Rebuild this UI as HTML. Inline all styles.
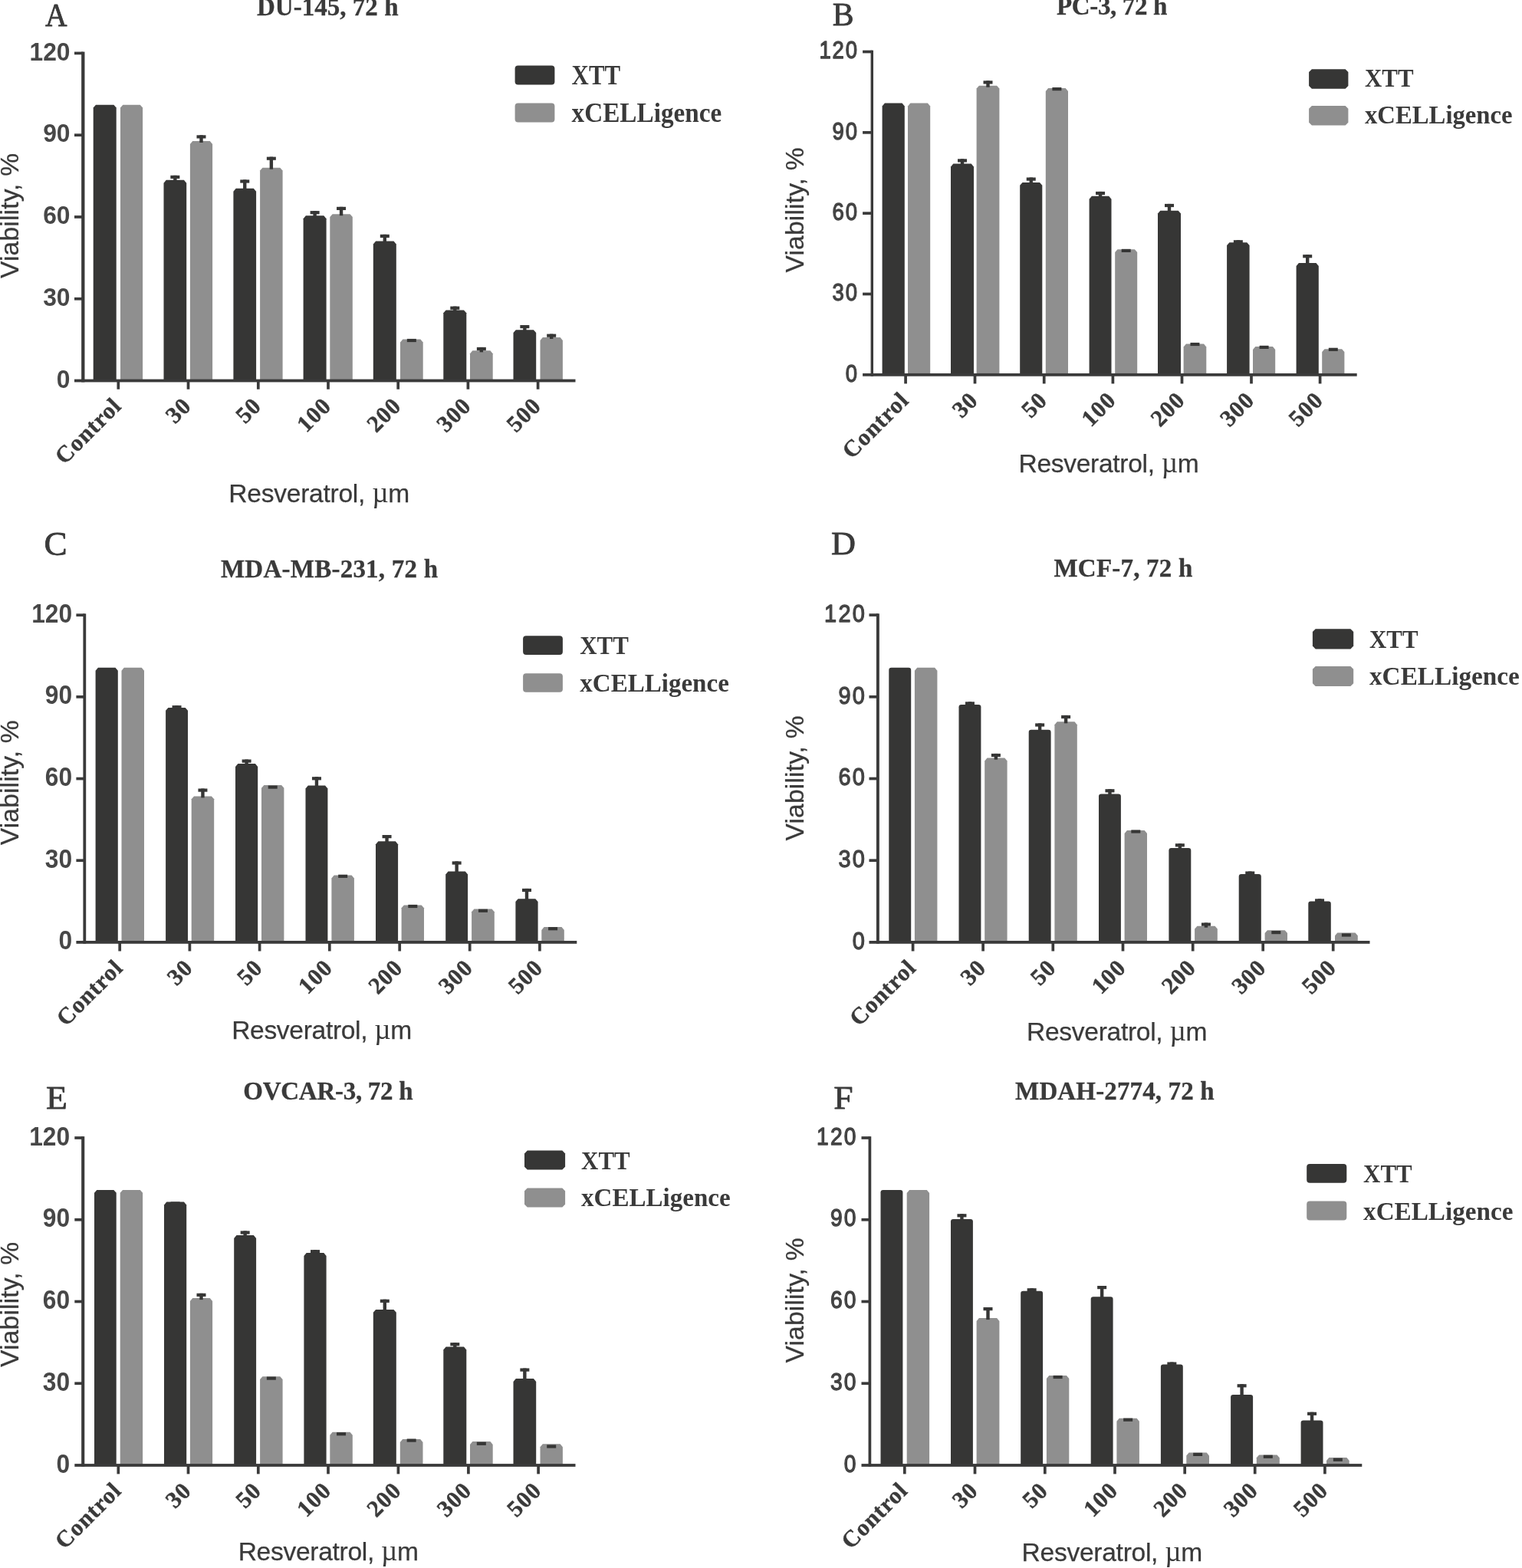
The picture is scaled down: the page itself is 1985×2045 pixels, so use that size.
<!DOCTYPE html>
<html lang="en">
<head>
<meta charset="utf-8">
<title>Resveratrol viability: XTT vs xCELLigence</title>
<style>
html,body{margin:0;padding:0;background:#fff;}
body{width:1985px;height:2045px;overflow:hidden;}
svg{display:block;}
text{fill:#3a3a3a;}
.pl{font-family:"Liberation Serif",serif;font-size:43px;stroke:#3a3a3a;stroke-width:0.8px;stroke-linejoin:round;}
.ti{font-family:"Liberation Serif",serif;font-weight:bold;font-size:33px;stroke:#3a3a3a;stroke-width:0.3px;}
.lg{font-family:"Liberation Serif",serif;font-weight:bold;font-size:35px;}
.xt{font-family:"Liberation Serif",serif;font-weight:bold;font-size:30.5px;letter-spacing:0.9px;stroke:#3a3a3a;stroke-width:0.45px;}
.yb{font-family:"Liberation Sans",sans-serif;font-weight:bold;fill:#474747;}
.yr{font-family:"Liberation Sans",sans-serif;stroke:#444;stroke-width:1.3px;stroke-linejoin:round;fill:#444;}
.al{font-family:"Liberation Sans",sans-serif;font-size:33.6px;stroke:#3a3a3a;stroke-width:0.25px;}
.mu{font-family:"Liberation Serif",serif;font-size:37px;stroke-width:0;}
</style>
</head>
<body>
<svg width="1985" height="2045" viewBox="0 0 1985 2045" role="img" aria-label="Cell viability after 72 h resveratrol treatment in six cancer cell lines, XTT versus xCELLigence">
<rect x="0" y="0" width="1985" height="2045" fill="#ffffff"/>
<g id="panel-A">
<path d="M121.7 496.5V140.6L125 136.7H148.4L151.7 140.6V496.5Z" fill="#363635"/>
<path d="M157 496.5V140.6L160.3 136.7H182.8L186.1 140.6V496.5Z" fill="#8f8f8f"/>
<path d="M213.5 496.5V238.7L216.8 234.8H239.9L243.2 238.7V496.5Z" fill="#363635"/>
<path d="M247.9 496.5V187.9L251.2 184H273.8L277.1 187.9V496.5Z" fill="#8f8f8f"/>
<rect x="222.35" y="228.8" width="12" height="4.2" fill="#363635"/>
<rect x="226.15" y="228.8" width="4.4" height="8" fill="#363635"/>
<rect x="256.5" y="176.3" width="12" height="4.2" fill="#363635"/>
<rect x="260.3" y="176.3" width="4.4" height="9.7" fill="#363635"/>
<path d="M304.4 496.5V249.7L307.7 245.8H330.8L334.1 249.7V496.5Z" fill="#363635"/>
<path d="M339.1 496.5V222.6L342.4 218.7H365.3L368.6 222.6V496.5Z" fill="#8f8f8f"/>
<rect x="313.25" y="234.4" width="12" height="4.2" fill="#363635"/>
<rect x="317.05" y="234.4" width="4.4" height="13.4" fill="#363635"/>
<rect x="347.85" y="204.6" width="12" height="4.2" fill="#363635"/>
<rect x="351.65" y="204.6" width="4.4" height="16.1" fill="#363635"/>
<path d="M395.6 496.5V285.2L398.9 281.3H422.3L425.6 285.2V496.5Z" fill="#363635"/>
<path d="M430.3 496.5V283.1L433.6 279.2H456.5L459.8 283.1V496.5Z" fill="#8f8f8f"/>
<rect x="404.6" y="275.1" width="12" height="4.2" fill="#363635"/>
<rect x="408.4" y="275.1" width="4.4" height="8.2" fill="#363635"/>
<rect x="439.05" y="269.8" width="12" height="4.2" fill="#363635"/>
<rect x="442.85" y="269.8" width="4.4" height="11.4" fill="#363635"/>
<path d="M486.8 496.5V318.5L490.1 314.6H513.5L516.8 318.5V496.5Z" fill="#363635"/>
<path d="M522 496.5V446.4L525.3 442.5H548.4L551.7 446.4V496.5Z" fill="#8f8f8f"/>
<rect x="495.8" y="305.8" width="12" height="4.2" fill="#363635"/>
<rect x="499.6" y="305.8" width="4.4" height="10.8" fill="#363635"/>
<rect x="530.85" y="441.9" width="12" height="4.2" fill="#363635"/>
<path d="M578.3 496.5V408.3L581.6 404.4H605L608.3 408.3V496.5Z" fill="#363635"/>
<path d="M613 496.5V461.2L616.3 457.3H639.4L642.7 461.2V496.5Z" fill="#8f8f8f"/>
<rect x="587.3" y="399.6" width="12" height="4.2" fill="#363635"/>
<rect x="591.1" y="399.6" width="4.4" height="6.8" fill="#363635"/>
<rect x="621.85" y="452.9" width="12" height="4.2" fill="#363635"/>
<rect x="625.65" y="452.9" width="4.4" height="6.4" fill="#363635"/>
<path d="M669.5 496.5V434.1L672.8 430.2H695.9L699.2 434.1V496.5Z" fill="#363635"/>
<path d="M704.5 496.5V443.9L707.8 440H730.6L733.9 443.9V496.5Z" fill="#8f8f8f"/>
<rect x="678.35" y="424" width="12" height="4.2" fill="#363635"/>
<rect x="682.15" y="424" width="4.4" height="8.2" fill="#363635"/>
<rect x="713.2" y="435.6" width="12" height="4.2" fill="#363635"/>
<rect x="717" y="435.6" width="4.4" height="6.4" fill="#363635"/>
<rect x="106.15" y="67.55" width="4.3" height="430.85" fill="#3a3a3a"/>
<rect x="97" y="494.6" width="653.5" height="3.8" fill="#3a3a3a"/>
<rect x="97" y="67.55" width="11.3" height="3.7" fill="#3a3a3a"/>
<text class="yb" text-anchor="end" style="font-size:33.8px;letter-spacing:0px" transform="translate(91.5 78.7) scale(0.94 1)">120</text>
<rect x="97" y="174.33" width="11.3" height="3.7" fill="#3a3a3a"/>
<text class="yb" text-anchor="end" style="font-size:33.8px;letter-spacing:0px" transform="translate(91.5 185.48) scale(0.94 1)">90</text>
<rect x="97" y="281.1" width="11.3" height="3.7" fill="#3a3a3a"/>
<text class="yb" text-anchor="end" style="font-size:33.8px;letter-spacing:0px" transform="translate(91.5 292.25) scale(0.94 1)">60</text>
<rect x="97" y="387.88" width="11.3" height="3.7" fill="#3a3a3a"/>
<text class="yb" text-anchor="end" style="font-size:33.8px;letter-spacing:0px" transform="translate(91.5 399.03) scale(0.94 1)">30</text>
<text class="yb" text-anchor="end" style="font-size:33.8px;letter-spacing:0px" transform="translate(91.5 505.8) scale(0.94 1)">0</text>
<rect x="152.45" y="496.5" width="3.7" height="11.2" fill="#3a3a3a"/>
<text class="xt" text-anchor="end" transform="translate(160 531) rotate(-45) skewX(0)">Control</text>
<rect x="243.65" y="496.5" width="3.7" height="11.2" fill="#3a3a3a"/>
<text class="xt" text-anchor="end" transform="translate(251.2 531) rotate(-45) skewX(0)">30</text>
<rect x="334.95" y="496.5" width="3.7" height="11.2" fill="#3a3a3a"/>
<text class="xt" text-anchor="end" transform="translate(342.5 531) rotate(-45) skewX(0)">50</text>
<rect x="426.15" y="496.5" width="3.7" height="11.2" fill="#3a3a3a"/>
<text class="xt" text-anchor="end" transform="translate(433.7 531) rotate(-45) skewX(0)">100</text>
<rect x="517.35" y="496.5" width="3.7" height="11.2" fill="#3a3a3a"/>
<text class="xt" text-anchor="end" transform="translate(524.9 531) rotate(-45) skewX(0)">200</text>
<rect x="608.55" y="496.5" width="3.7" height="11.2" fill="#3a3a3a"/>
<text class="xt" text-anchor="end" transform="translate(616.1 531) rotate(-45) skewX(0)">300</text>
<rect x="699.75" y="496.5" width="3.7" height="11.2" fill="#3a3a3a"/>
<text class="xt" text-anchor="end" transform="translate(707.3 531) rotate(-45) skewX(0)">500</text>
<text class="al" text-anchor="middle" textLength="163" lengthAdjust="spacing" transform="translate(24.2 281.5) rotate(-90)">Viability, %</text>
<text class="al" x="298.35" y="655.4" textLength="235.85" lengthAdjust="spacing">Resveratrol, <tspan class="mu">µ</tspan>m</text>
<text class="ti" x="335" y="19.7" textLength="184.5" lengthAdjust="spacing">DU-145, 72 h</text>
<text class="pl" transform="translate(59.1 33.8) scale(0.92 1)">A</text>
<rect x="671.6" y="85.4" width="51.8" height="25" rx="4" ry="4" fill="#363635"/>
<rect x="671.6" y="134.6" width="51.8" height="25" rx="4" ry="4" fill="#8f8f8f"/>
<text class="lg" style="font-size:35px" x="745.6" y="109.7" textLength="63.5" lengthAdjust="spacingAndGlyphs">XTT</text>
<text class="lg" style="font-size:35px" x="745.6" y="158.7" textLength="195.6" lengthAdjust="spacingAndGlyphs">xCELLigence</text>
</g>
<g id="panel-B">
<path d="M1150.6 488.8V138.5L1153.9 134.6H1176.5L1179.8 138.5V488.8Z" fill="#363635"/>
<path d="M1184 488.8V138.5L1187.3 134.6H1209.9L1213.2 138.5V488.8Z" fill="#8f8f8f"/>
<path d="M1240 488.8V217.4L1243.3 213.5H1266.7L1270 217.4V488.8Z" fill="#363635"/>
<path d="M1273.6 488.8V115.6L1276.9 111.7H1300.1L1303.4 115.6V488.8Z" fill="#8f8f8f"/>
<rect x="1249" y="207.3" width="12" height="4.2" fill="#363635"/>
<rect x="1252.8" y="207.3" width="4.4" height="8.2" fill="#363635"/>
<rect x="1282.5" y="105.3" width="12" height="4.2" fill="#363635"/>
<rect x="1286.3" y="105.3" width="4.4" height="8.4" fill="#363635"/>
<path d="M1330.2 488.8V241.8L1333.5 237.9H1356L1359.3 241.8V488.8Z" fill="#363635"/>
<path d="M1363.8 488.8V119L1367.1 115.1H1389.7L1393 119V488.8Z" fill="#8f8f8f"/>
<rect x="1338.75" y="231.5" width="12" height="4.2" fill="#363635"/>
<rect x="1342.55" y="231.5" width="4.4" height="8.4" fill="#363635"/>
<rect x="1372.4" y="114" width="12" height="4.2" fill="#363635"/>
<path d="M1420.6 488.8V259.7L1423.9 255.8H1446.2L1449.5 259.7V488.8Z" fill="#363635"/>
<path d="M1454.2 488.8V329.1L1457.5 325.2H1479.9L1483.2 329.1V488.8Z" fill="#8f8f8f"/>
<rect x="1429.05" y="249.9" width="12" height="4.2" fill="#363635"/>
<rect x="1432.85" y="249.9" width="4.4" height="7.9" fill="#363635"/>
<rect x="1462.7" y="324.8" width="12" height="4.2" fill="#363635"/>
<path d="M1510 488.8V278.6L1513.3 274.7H1536.7L1540 278.6V488.8Z" fill="#363635"/>
<path d="M1543.6 488.8V452.5L1546.9 448.6H1570L1573.3 452.5V488.8Z" fill="#8f8f8f"/>
<rect x="1519" y="265.9" width="12" height="4.2" fill="#363635"/>
<rect x="1522.8" y="265.9" width="4.4" height="10.8" fill="#363635"/>
<rect x="1552.45" y="446.9" width="12" height="4.2" fill="#363635"/>
<path d="M1600.1 488.8V320.1L1603.4 316.2H1626.3L1629.6 320.1V488.8Z" fill="#363635"/>
<path d="M1634 488.8V455.9L1637.3 452H1659.9L1663.2 455.9V488.8Z" fill="#8f8f8f"/>
<rect x="1608.85" y="313.2" width="12" height="4.2" fill="#363635"/>
<rect x="1612.65" y="313.2" width="4.4" height="5" fill="#363635"/>
<rect x="1642.6" y="450.8" width="12" height="4.2" fill="#363635"/>
<path d="M1690.6 488.8V346.9L1693.9 343H1716.5L1719.8 346.9V488.8Z" fill="#363635"/>
<path d="M1724.2 488.8V459.1L1727.5 455.2H1750.1L1753.4 459.1V488.8Z" fill="#8f8f8f"/>
<rect x="1699.2" y="332.1" width="12" height="4.2" fill="#363635"/>
<rect x="1703" y="332.1" width="4.4" height="12.9" fill="#363635"/>
<rect x="1732.8" y="453.7" width="12" height="4.2" fill="#363635"/>
<rect x="1135.6" y="65.65" width="3.4" height="425.05" fill="#3a3a3a"/>
<rect x="1125.1" y="486.9" width="644.6" height="3.8" fill="#3a3a3a"/>
<rect x="1125.1" y="65.65" width="12.2" height="3.7" fill="#3a3a3a"/>
<text class="yr" text-anchor="end" style="font-size:30.5px;letter-spacing:2.1px" transform="translate(1119.88 76.4) scale(0.9 1)">120</text>
<rect x="1125.1" y="170.97" width="12.2" height="3.7" fill="#3a3a3a"/>
<text class="yr" text-anchor="end" style="font-size:30.5px;letter-spacing:2.1px" transform="translate(1119.88 181.72) scale(0.9 1)">90</text>
<rect x="1125.1" y="276.3" width="12.2" height="3.7" fill="#3a3a3a"/>
<text class="yr" text-anchor="end" style="font-size:30.5px;letter-spacing:2.1px" transform="translate(1119.88 287.05) scale(0.9 1)">60</text>
<rect x="1125.1" y="381.62" width="12.2" height="3.7" fill="#3a3a3a"/>
<text class="yr" text-anchor="end" style="font-size:30.5px;letter-spacing:2.1px" transform="translate(1119.88 392.38) scale(0.9 1)">30</text>
<text class="yr" text-anchor="end" style="font-size:30.5px;letter-spacing:2.1px" transform="translate(1119.88 497.7) scale(0.9 1)">0</text>
<rect x="1179.25" y="488.8" width="3.7" height="11.6" fill="#3a3a3a"/>
<text class="xt" text-anchor="end" transform="translate(1186.8 523.7) rotate(-45) skewX(0)">Control</text>
<rect x="1269.65" y="488.8" width="3.7" height="11.6" fill="#3a3a3a"/>
<text class="xt" text-anchor="end" transform="translate(1277.2 523.7) rotate(-45) skewX(0)">30</text>
<rect x="1359.85" y="488.8" width="3.7" height="11.6" fill="#3a3a3a"/>
<text class="xt" text-anchor="end" transform="translate(1367.4 523.7) rotate(-45) skewX(0)">50</text>
<rect x="1449.55" y="488.8" width="3.7" height="11.6" fill="#3a3a3a"/>
<text class="xt" text-anchor="end" transform="translate(1457.1 523.7) rotate(-45) skewX(0)">100</text>
<rect x="1539.65" y="488.8" width="3.7" height="11.6" fill="#3a3a3a"/>
<text class="xt" text-anchor="end" transform="translate(1547.2 523.7) rotate(-45) skewX(0)">200</text>
<rect x="1630.15" y="488.8" width="3.7" height="11.6" fill="#3a3a3a"/>
<text class="xt" text-anchor="end" transform="translate(1637.7 523.7) rotate(-45) skewX(0)">300</text>
<rect x="1719.75" y="488.8" width="3.7" height="11.6" fill="#3a3a3a"/>
<text class="xt" text-anchor="end" transform="translate(1727.3 523.7) rotate(-45) skewX(0)">500</text>
<text class="al" text-anchor="middle" textLength="163" lengthAdjust="spacing" transform="translate(1047.5 274) rotate(-90)">Viability, %</text>
<text class="al" x="1328.55" y="616" textLength="235.15" lengthAdjust="spacing">Resveratrol, <tspan class="mu">µ</tspan>m</text>
<text class="ti" x="1378" y="19" textLength="144.3" lengthAdjust="spacing">PC-3, 72 h</text>
<text class="pl" transform="translate(1085.7 33.4) scale(0.97 1)">B</text>
<path d="M1710.9 90.2H1754.6L1758.4 94V111.9L1754.6 115.7H1710.9L1707.1 111.9V94Z" fill="#363635"/>
<path d="M1710.9 138H1754.6L1758.4 141.8V159.7L1754.6 163.5H1710.9L1707.1 159.7V141.8Z" fill="#8f8f8f"/>
<text class="lg" style="font-size:33px" x="1780" y="113.4" textLength="63.5" lengthAdjust="spacingAndGlyphs">XTT</text>
<text class="lg" style="font-size:33px" x="1780" y="160.9" textLength="192.6" lengthAdjust="spacingAndGlyphs">xCELLigence</text>
</g>
<g id="panel-C">
<path d="M124.6 1228.9V874.7L127.9 870.8H150.5L153.8 874.7V1228.9Z" fill="#363635"/>
<path d="M158.5 1228.9V874.7L161.8 870.8H184.7L188 874.7V1228.9Z" fill="#8f8f8f"/>
<path d="M216.1 1228.9V926.8L219.4 922.9H241.7L245 926.8V1228.9Z" fill="#363635"/>
<path d="M249.7 1228.9V1042.3L253 1038.4H275.9L279.2 1042.3V1228.9Z" fill="#8f8f8f"/>
<rect x="224.55" y="920.1" width="12" height="4.2" fill="#363635"/>
<rect x="228.35" y="920.1" width="4.4" height="4.8" fill="#363635"/>
<rect x="258.45" y="1028.5" width="12" height="4.2" fill="#363635"/>
<rect x="262.25" y="1028.5" width="4.4" height="11.9" fill="#363635"/>
<path d="M307 1228.9V999.9L310.3 996H332.9L336.2 999.9V1228.9Z" fill="#363635"/>
<path d="M341 1228.9V1027.8L344.3 1023.9H367.1L370.4 1027.8V1228.9Z" fill="#8f8f8f"/>
<rect x="315.6" y="990.5" width="12" height="4.2" fill="#363635"/>
<rect x="319.4" y="990.5" width="4.4" height="7.5" fill="#363635"/>
<rect x="349.7" y="1024.5" width="12" height="4.2" fill="#363635"/>
<path d="M398.5 1228.9V1028.4L401.8 1024.5H424.1L427.4 1028.4V1228.9Z" fill="#363635"/>
<path d="M432.4 1228.9V1145.4L435.7 1141.5H458.6L461.9 1145.4V1228.9Z" fill="#8f8f8f"/>
<rect x="406.95" y="1013.2" width="12" height="4.2" fill="#363635"/>
<rect x="410.75" y="1013.2" width="4.4" height="13.3" fill="#363635"/>
<rect x="441.15" y="1140.7" width="12" height="4.2" fill="#363635"/>
<path d="M490 1228.9V1101.2L493.3 1097.3H515.8L519.1 1101.2V1228.9Z" fill="#363635"/>
<path d="M523.6 1228.9V1184.3L526.9 1180.4H549.7L553 1184.3V1228.9Z" fill="#8f8f8f"/>
<rect x="498.55" y="1089" width="12" height="4.2" fill="#363635"/>
<rect x="502.35" y="1089" width="4.4" height="10.3" fill="#363635"/>
<rect x="532.3" y="1179.9" width="12" height="4.2" fill="#363635"/>
<path d="M581.2 1228.9V1140.4L584.5 1136.5H606.8L610.1 1140.4V1228.9Z" fill="#363635"/>
<path d="M615.1 1228.9V1189.3L618.4 1185.4H641.5L644.8 1189.3V1228.9Z" fill="#8f8f8f"/>
<rect x="589.65" y="1123.4" width="12" height="4.2" fill="#363635"/>
<rect x="593.45" y="1123.4" width="4.4" height="15.1" fill="#363635"/>
<rect x="623.95" y="1185.7" width="12" height="4.2" fill="#363635"/>
<path d="M672.4 1228.9V1176.1L675.7 1172.2H698.3L701.6 1176.1V1228.9Z" fill="#363635"/>
<path d="M706.3 1228.9V1212.9L709.6 1209H732.5L735.8 1212.9V1228.9Z" fill="#8f8f8f"/>
<rect x="681" y="1158.9" width="12" height="4.2" fill="#363635"/>
<rect x="684.8" y="1158.9" width="4.4" height="15.3" fill="#363635"/>
<rect x="715.05" y="1209.1" width="12" height="4.2" fill="#363635"/>
<rect x="108.4" y="800.35" width="3.8" height="430.45" fill="#3a3a3a"/>
<rect x="99.4" y="1227" width="652.9" height="3.8" fill="#3a3a3a"/>
<rect x="99.4" y="800.35" width="10.9" height="3.7" fill="#3a3a3a"/>
<text class="yb" text-anchor="end" style="font-size:34.8px;letter-spacing:0px" transform="translate(94 811.7) scale(0.91 1)">120</text>
<rect x="99.4" y="907.02" width="10.9" height="3.7" fill="#3a3a3a"/>
<text class="yb" text-anchor="end" style="font-size:34.8px;letter-spacing:0px" transform="translate(94 918.38) scale(0.91 1)">90</text>
<rect x="99.4" y="1013.7" width="10.9" height="3.7" fill="#3a3a3a"/>
<text class="yb" text-anchor="end" style="font-size:34.8px;letter-spacing:0px" transform="translate(94 1025.05) scale(0.91 1)">60</text>
<rect x="99.4" y="1120.38" width="10.9" height="3.7" fill="#3a3a3a"/>
<text class="yb" text-anchor="end" style="font-size:34.8px;letter-spacing:0px" transform="translate(94 1131.73) scale(0.91 1)">30</text>
<text class="yb" text-anchor="end" style="font-size:34.8px;letter-spacing:0px" transform="translate(94 1238.4) scale(0.91 1)">0</text>
<rect x="154.35" y="1228.9" width="3.7" height="11.6" fill="#3a3a3a"/>
<text class="xt" text-anchor="end" transform="translate(161.9 1263.8) rotate(-45) skewX(0)">Control</text>
<rect x="245.55" y="1228.9" width="3.7" height="11.6" fill="#3a3a3a"/>
<text class="xt" text-anchor="end" transform="translate(253.1 1263.8) rotate(-45) skewX(0)">30</text>
<rect x="336.75" y="1228.9" width="3.7" height="11.6" fill="#3a3a3a"/>
<text class="xt" text-anchor="end" transform="translate(344.3 1263.8) rotate(-45) skewX(0)">50</text>
<rect x="427.95" y="1228.9" width="3.7" height="11.6" fill="#3a3a3a"/>
<text class="xt" text-anchor="end" transform="translate(435.5 1263.8) rotate(-45) skewX(0)">100</text>
<rect x="519.35" y="1228.9" width="3.7" height="11.6" fill="#3a3a3a"/>
<text class="xt" text-anchor="end" transform="translate(526.9 1263.8) rotate(-45) skewX(0)">200</text>
<rect x="610.85" y="1228.9" width="3.7" height="11.6" fill="#3a3a3a"/>
<text class="xt" text-anchor="end" transform="translate(618.4 1263.8) rotate(-45) skewX(0)">300</text>
<rect x="702.05" y="1228.9" width="3.7" height="11.6" fill="#3a3a3a"/>
<text class="xt" text-anchor="end" transform="translate(709.6 1263.8) rotate(-45) skewX(0)">500</text>
<text class="al" text-anchor="middle" textLength="163" lengthAdjust="spacing" transform="translate(24.2 1020.8) rotate(-90)">Viability, %</text>
<text class="al" x="302.15" y="1355" textLength="235.05" lengthAdjust="spacing">Resveratrol, <tspan class="mu">µ</tspan>m</text>
<text class="ti" x="287.9" y="752.5" textLength="283.3" lengthAdjust="spacing">MDA-MB-231, 72 h</text>
<text class="pl" transform="translate(57.6 723.7) scale(1.05 1.05)">C</text>
<rect x="682.1" y="829.3" width="51.8" height="24.6" rx="4" ry="4" fill="#363635"/>
<rect x="682.1" y="878.2" width="51.8" height="24.6" rx="4" ry="4" fill="#8f8f8f"/>
<text class="lg" style="font-size:33.8px" x="756.3" y="853.2" textLength="63.5" lengthAdjust="spacingAndGlyphs">XTT</text>
<text class="lg" style="font-size:33.8px" x="756.3" y="901.8" textLength="194.5" lengthAdjust="spacingAndGlyphs">xCELLigence</text>
</g>
<g id="panel-D">
<path d="M1159.3 1228.9V874A3.2 3.2 0 0 1 1162.5 870.8H1185A3.2 3.2 0 0 1 1188.2 874V1228.9Z" fill="#363635"/>
<path d="M1192.9 1228.9V874.7L1196.2 870.8H1219.1L1222.4 874.7V1228.9Z" fill="#8f8f8f"/>
<path d="M1250.5 1228.9V922.2A3.2 3.2 0 0 1 1253.7 919H1276.2A3.2 3.2 0 0 1 1279.4 922.2V1228.9Z" fill="#363635"/>
<path d="M1284.2 1228.9V992.5L1287.5 988.6H1310.3L1313.6 992.5V1228.9Z" fill="#8f8f8f"/>
<rect x="1258.95" y="915.3" width="12" height="4.2" fill="#363635"/>
<rect x="1262.75" y="915.3" width="4.4" height="5.7" fill="#363635"/>
<rect x="1292.9" y="982.9" width="12" height="4.2" fill="#363635"/>
<rect x="1296.7" y="982.9" width="4.4" height="7.7" fill="#363635"/>
<path d="M1341.7 1228.9V955A3.2 3.2 0 0 1 1344.9 951.8H1367.4A3.2 3.2 0 0 1 1370.6 955V1228.9Z" fill="#363635"/>
<path d="M1375.4 1228.9V945.2L1378.7 941.3H1401.5L1404.8 945.2V1228.9Z" fill="#8f8f8f"/>
<rect x="1350.15" y="943.4" width="12" height="4.2" fill="#363635"/>
<rect x="1353.95" y="943.4" width="4.4" height="10.4" fill="#363635"/>
<rect x="1384.1" y="932.9" width="12" height="4.2" fill="#363635"/>
<rect x="1387.9" y="932.9" width="4.4" height="10.4" fill="#363635"/>
<path d="M1433 1228.9V1038.6A3.2 3.2 0 0 1 1436.2 1035.4H1458.7A3.2 3.2 0 0 1 1461.9 1038.6V1228.9Z" fill="#363635"/>
<path d="M1466.6 1228.9V1087L1469.9 1083.1H1492.7L1496 1087V1228.9Z" fill="#8f8f8f"/>
<rect x="1441.45" y="1029.2" width="12" height="4.2" fill="#363635"/>
<rect x="1445.25" y="1029.2" width="4.4" height="8.2" fill="#363635"/>
<rect x="1475.3" y="1082.4" width="12" height="4.2" fill="#363635"/>
<path d="M1524.4 1228.9V1109.2A3.2 3.2 0 0 1 1527.6 1106H1550.1A3.2 3.2 0 0 1 1553.3 1109.2V1228.9Z" fill="#363635"/>
<path d="M1558.1 1228.9V1211.6L1561.4 1207.7H1584.5L1587.8 1211.6V1228.9Z" fill="#8f8f8f"/>
<rect x="1532.85" y="1100.2" width="12" height="4.2" fill="#363635"/>
<rect x="1536.65" y="1100.2" width="4.4" height="7.8" fill="#363635"/>
<rect x="1566.95" y="1203.5" width="12" height="4.2" fill="#363635"/>
<rect x="1570.75" y="1203.5" width="4.4" height="6.2" fill="#363635"/>
<path d="M1615.7 1228.9V1143.3A3.2 3.2 0 0 1 1618.9 1140.1H1641.6A3.2 3.2 0 0 1 1644.8 1143.3V1228.9Z" fill="#363635"/>
<path d="M1649.6 1228.9V1217.1L1652.9 1213.2H1675.7L1679 1217.1V1228.9Z" fill="#8f8f8f"/>
<rect x="1624.25" y="1136.5" width="12" height="4.2" fill="#363635"/>
<rect x="1628.05" y="1136.5" width="4.4" height="5.6" fill="#363635"/>
<rect x="1658.3" y="1214" width="12" height="4.2" fill="#363635"/>
<path d="M1706.3 1228.9V1178.8A3.2 3.2 0 0 1 1709.5 1175.6H1732.6A3.2 3.2 0 0 1 1735.8 1178.8V1228.9Z" fill="#363635"/>
<path d="M1741 1228.9V1220.3L1744.3 1216.4H1767.5L1770.8 1220.3V1228.9Z" fill="#8f8f8f"/>
<rect x="1715.05" y="1172.3" width="12" height="4.2" fill="#363635"/>
<rect x="1718.85" y="1172.3" width="4.4" height="5.3" fill="#363635"/>
<rect x="1749.9" y="1217.4" width="12" height="4.2" fill="#363635"/>
<rect x="1142.95" y="800.25" width="3.9" height="430.55" fill="#3a3a3a"/>
<rect x="1133.5" y="1227" width="653" height="3.8" fill="#3a3a3a"/>
<rect x="1133.5" y="800.25" width="11.4" height="3.7" fill="#3a3a3a"/>
<text class="yr" text-anchor="end" style="font-size:32.1px;letter-spacing:2.6px" transform="translate(1130.23 811) scale(0.9 1)">120</text>
<rect x="1133.5" y="906.95" width="11.4" height="3.7" fill="#3a3a3a"/>
<text class="yr" text-anchor="end" style="font-size:32.1px;letter-spacing:2.6px" transform="translate(1130.23 917.7) scale(0.9 1)">90</text>
<rect x="1133.5" y="1013.65" width="11.4" height="3.7" fill="#3a3a3a"/>
<text class="yr" text-anchor="end" style="font-size:32.1px;letter-spacing:2.6px" transform="translate(1130.23 1024.4) scale(0.9 1)">60</text>
<rect x="1133.5" y="1120.35" width="11.4" height="3.7" fill="#3a3a3a"/>
<text class="yr" text-anchor="end" style="font-size:32.1px;letter-spacing:2.6px" transform="translate(1130.23 1131.1) scale(0.9 1)">30</text>
<text class="yr" text-anchor="end" style="font-size:32.1px;letter-spacing:2.6px" transform="translate(1130.23 1237.8) scale(0.9 1)">0</text>
<rect x="1188.75" y="1228.9" width="3.7" height="11.6" fill="#3a3a3a"/>
<text class="xt" text-anchor="end" transform="translate(1196.3 1263.8) rotate(-45) skewX(0)">Control</text>
<rect x="1280.25" y="1228.9" width="3.7" height="11.6" fill="#3a3a3a"/>
<text class="xt" text-anchor="end" transform="translate(1287.8 1263.8) rotate(-45) skewX(0)">30</text>
<rect x="1371.45" y="1228.9" width="3.7" height="11.6" fill="#3a3a3a"/>
<text class="xt" text-anchor="end" transform="translate(1379 1263.8) rotate(-45) skewX(0)">50</text>
<rect x="1462.65" y="1228.9" width="3.7" height="11.6" fill="#3a3a3a"/>
<text class="xt" text-anchor="end" transform="translate(1470.2 1263.8) rotate(-45) skewX(0)">100</text>
<rect x="1553.85" y="1228.9" width="3.7" height="11.6" fill="#3a3a3a"/>
<text class="xt" text-anchor="end" transform="translate(1561.4 1263.8) rotate(-45) skewX(0)">200</text>
<rect x="1645.35" y="1228.9" width="3.7" height="11.6" fill="#3a3a3a"/>
<text class="xt" text-anchor="end" transform="translate(1652.9 1263.8) rotate(-45) skewX(0)">300</text>
<rect x="1736.85" y="1228.9" width="3.7" height="11.6" fill="#3a3a3a"/>
<text class="xt" text-anchor="end" transform="translate(1744.4 1263.8) rotate(-45) skewX(0)">500</text>
<text class="al" text-anchor="middle" textLength="163" lengthAdjust="spacing" transform="translate(1047.5 1015) rotate(-90)">Viability, %</text>
<text class="al" x="1339.05" y="1357" textLength="235.35" lengthAdjust="spacing">Resveratrol, <tspan class="mu">µ</tspan>m</text>
<text class="ti" x="1374.5" y="752.2" textLength="180.8" lengthAdjust="spacing">MCF-7, 72 h</text>
<text class="pl" transform="translate(1084 723.3) scale(1.03 1)">D</text>
<path d="M1715.7 820.3H1761.4L1765.2 824.1V842.6L1761.4 846.4H1715.7L1711.9 842.6V824.1Z" fill="#363635"/>
<path d="M1715.7 869H1761.4L1765.2 872.8V891.3L1761.4 895.1H1715.7L1711.9 891.3V872.8Z" fill="#8f8f8f"/>
<text class="lg" style="font-size:33.8px" x="1786" y="844.5" textLength="63.5" lengthAdjust="spacingAndGlyphs">XTT</text>
<text class="lg" style="font-size:33.8px" x="1786" y="893.2" textLength="195.8" lengthAdjust="spacingAndGlyphs">xCELLigence</text>
</g>
<g id="panel-E">
<path d="M123 1911V1555.8L126.3 1551.9H148.4L151.7 1555.8V1911Z" fill="#363635"/>
<path d="M156.7 1911V1555.8L160 1551.9H182.8L186.1 1555.8V1911Z" fill="#8f8f8f"/>
<path d="M214 1911V1571.4L217.3 1567.5H239.9L243.2 1571.4V1911Z" fill="#363635"/>
<path d="M247.9 1911V1697L251.2 1693.1H273.8L277.1 1697V1911Z" fill="#8f8f8f"/>
<rect x="222.6" y="1567.4" width="12" height="4.2" fill="#363635"/>
<rect x="256.5" y="1686.8" width="12" height="4.2" fill="#363635"/>
<rect x="260.3" y="1686.8" width="4.4" height="8.3" fill="#363635"/>
<path d="M305.2 1911V1615L308.5 1611.1H330.8L334.1 1615V1911Z" fill="#363635"/>
<path d="M339.1 1911V1799.1L342.4 1795.2H365.3L368.6 1799.1V1911Z" fill="#8f8f8f"/>
<rect x="313.65" y="1605.4" width="12" height="4.2" fill="#363635"/>
<rect x="317.45" y="1605.4" width="4.4" height="7.7" fill="#363635"/>
<rect x="347.85" y="1795.5" width="12" height="4.2" fill="#363635"/>
<path d="M396.4 1911V1637.9L399.7 1634H422.3L425.6 1637.9V1911Z" fill="#363635"/>
<path d="M430.3 1911V1871.7L433.6 1867.8H456.5L459.8 1871.7V1911Z" fill="#8f8f8f"/>
<rect x="405" y="1630.1" width="12" height="4.2" fill="#363635"/>
<rect x="408.8" y="1630.1" width="4.4" height="5.9" fill="#363635"/>
<rect x="439.05" y="1868.1" width="12" height="4.2" fill="#363635"/>
<path d="M486.8 1911V1711.8L490.1 1707.9H513.5L516.8 1711.8V1911Z" fill="#363635"/>
<path d="M521.8 1911V1880.9L525.1 1877H548.2L551.5 1880.9V1911Z" fill="#8f8f8f"/>
<rect x="495.8" y="1694.7" width="12" height="4.2" fill="#363635"/>
<rect x="499.6" y="1694.7" width="4.4" height="15.2" fill="#363635"/>
<rect x="530.65" y="1876.5" width="12" height="4.2" fill="#363635"/>
<path d="M578.3 1911V1760.5L581.6 1756.6H605L608.3 1760.5V1911Z" fill="#363635"/>
<path d="M613 1911V1884L616.3 1880.1H639.4L642.7 1884V1911Z" fill="#8f8f8f"/>
<rect x="587.3" y="1751.1" width="12" height="4.2" fill="#363635"/>
<rect x="591.1" y="1751.1" width="4.4" height="7.5" fill="#363635"/>
<rect x="621.85" y="1880.7" width="12" height="4.2" fill="#363635"/>
<path d="M669.5 1911V1802L672.8 1798.1H695.9L699.2 1802V1911Z" fill="#363635"/>
<path d="M704.5 1911V1887.2L707.8 1883.3H730.6L733.9 1887.2V1911Z" fill="#8f8f8f"/>
<rect x="678.35" y="1784.5" width="12" height="4.2" fill="#363635"/>
<rect x="682.15" y="1784.5" width="4.4" height="15.6" fill="#363635"/>
<rect x="713.2" y="1884.4" width="12" height="4.2" fill="#363635"/>
<rect x="106.15" y="1482.15" width="4.1" height="430.75" fill="#3a3a3a"/>
<rect x="97.3" y="1909.1" width="653.2" height="3.8" fill="#3a3a3a"/>
<rect x="97.3" y="1482.15" width="10.9" height="3.7" fill="#3a3a3a"/>
<text class="yb" text-anchor="end" style="font-size:34.8px;letter-spacing:0px" transform="translate(91 1493.5) scale(0.91 1)">120</text>
<rect x="97.3" y="1588.9" width="10.9" height="3.7" fill="#3a3a3a"/>
<text class="yb" text-anchor="end" style="font-size:34.8px;letter-spacing:0px" transform="translate(91 1600.25) scale(0.91 1)">90</text>
<rect x="97.3" y="1695.65" width="10.9" height="3.7" fill="#3a3a3a"/>
<text class="yb" text-anchor="end" style="font-size:34.8px;letter-spacing:0px" transform="translate(91 1707) scale(0.91 1)">60</text>
<rect x="97.3" y="1802.4" width="10.9" height="3.7" fill="#3a3a3a"/>
<text class="yb" text-anchor="end" style="font-size:34.8px;letter-spacing:0px" transform="translate(91 1813.75) scale(0.91 1)">30</text>
<text class="yb" text-anchor="end" style="font-size:34.8px;letter-spacing:0px" transform="translate(91 1920.5) scale(0.91 1)">0</text>
<rect x="152.45" y="1911" width="3.7" height="11.4" fill="#3a3a3a"/>
<text class="xt" text-anchor="end" transform="translate(160 1945.7) rotate(-45) skewX(0)">Control</text>
<rect x="243.65" y="1911" width="3.7" height="11.4" fill="#3a3a3a"/>
<text class="xt" text-anchor="end" transform="translate(251.2 1945.7) rotate(-45) skewX(0)">30</text>
<rect x="334.95" y="1911" width="3.7" height="11.4" fill="#3a3a3a"/>
<text class="xt" text-anchor="end" transform="translate(342.5 1945.7) rotate(-45) skewX(0)">50</text>
<rect x="426.15" y="1911" width="3.7" height="11.4" fill="#3a3a3a"/>
<text class="xt" text-anchor="end" transform="translate(433.7 1945.7) rotate(-45) skewX(0)">100</text>
<rect x="517.55" y="1911" width="3.7" height="11.4" fill="#3a3a3a"/>
<text class="xt" text-anchor="end" transform="translate(525.1 1945.7) rotate(-45) skewX(0)">200</text>
<rect x="609.05" y="1911" width="3.7" height="11.4" fill="#3a3a3a"/>
<text class="xt" text-anchor="end" transform="translate(616.6 1945.7) rotate(-45) skewX(0)">300</text>
<rect x="700.25" y="1911" width="3.7" height="11.4" fill="#3a3a3a"/>
<text class="xt" text-anchor="end" transform="translate(707.8 1945.7) rotate(-45) skewX(0)">500</text>
<text class="al" text-anchor="middle" textLength="163" lengthAdjust="spacing" transform="translate(24.2 1701.4) rotate(-90)">Viability, %</text>
<text class="al" x="310.65" y="2035" textLength="235.35" lengthAdjust="spacing">Resveratrol, <tspan class="mu">µ</tspan>m</text>
<text class="ti" x="317.3" y="1434.4" textLength="221.3" lengthAdjust="spacing">OVCAR-3, 72 h</text>
<text class="pl" transform="translate(60 1445.7) scale(1.06 1)">E</text>
<path d="M687.8 1500.6H733.3L737.1 1504.4V1521.8L733.3 1525.6H687.8L684 1521.8V1504.4Z" fill="#363635"/>
<path d="M687.8 1549.5H733.3L737.1 1553.3V1570.7L733.3 1574.5H687.8L684 1570.7V1553.3Z" fill="#8f8f8f"/>
<text class="lg" style="font-size:33.8px" x="758.1" y="1524.5" textLength="63.5" lengthAdjust="spacingAndGlyphs">XTT</text>
<text class="lg" style="font-size:33.8px" x="758.1" y="1573.2" textLength="194.5" lengthAdjust="spacingAndGlyphs">xCELLigence</text>
</g>
<g id="panel-F">
<path d="M1148.5 1911V1555.2A3.2 3.2 0 0 1 1151.7 1552H1174.2A3.2 3.2 0 0 1 1177.4 1555.2V1911Z" fill="#363635"/>
<path d="M1182.7 1911V1555.9L1186 1552H1208.8L1212.1 1555.9V1911Z" fill="#8f8f8f"/>
<path d="M1240 1911V1593.2A3.2 3.2 0 0 1 1243.2 1590H1265.7A3.2 3.2 0 0 1 1268.9 1593.2V1911Z" fill="#363635"/>
<path d="M1273.6 1911V1723L1276.9 1719.1H1300.1L1303.4 1723V1911Z" fill="#8f8f8f"/>
<rect x="1248.45" y="1583.2" width="12" height="4.2" fill="#363635"/>
<rect x="1252.25" y="1583.2" width="4.4" height="8.8" fill="#363635"/>
<rect x="1282.5" y="1705" width="12" height="4.2" fill="#363635"/>
<rect x="1286.3" y="1705" width="4.4" height="16.1" fill="#363635"/>
<path d="M1331.2 1911V1687A3.2 3.2 0 0 1 1334.4 1683.8H1356.9A3.2 3.2 0 0 1 1360.1 1687V1911Z" fill="#363635"/>
<path d="M1364.9 1911V1798L1368.2 1794.1H1391L1394.3 1798V1911Z" fill="#8f8f8f"/>
<rect x="1339.65" y="1680.2" width="12" height="4.2" fill="#363635"/>
<rect x="1343.45" y="1680.2" width="4.4" height="5.6" fill="#363635"/>
<rect x="1373.6" y="1793.9" width="12" height="4.2" fill="#363635"/>
<path d="M1422.7 1911V1694.4A3.2 3.2 0 0 1 1425.9 1691.2H1448.4A3.2 3.2 0 0 1 1451.6 1694.4V1911Z" fill="#363635"/>
<path d="M1456.4 1911V1853.7L1459.7 1849.8H1482.6L1485.9 1853.7V1911Z" fill="#8f8f8f"/>
<rect x="1431.15" y="1677" width="12" height="4.2" fill="#363635"/>
<rect x="1434.95" y="1677" width="4.4" height="16.2" fill="#363635"/>
<rect x="1465.15" y="1849.6" width="12" height="4.2" fill="#363635"/>
<path d="M1513.9 1911V1782.8A3.2 3.2 0 0 1 1517.1 1779.6H1539.6A3.2 3.2 0 0 1 1542.8 1782.8V1911Z" fill="#363635"/>
<path d="M1547.3 1911V1898.4L1550.6 1894.5H1573.7L1577 1898.4V1911Z" fill="#8f8f8f"/>
<rect x="1522.35" y="1776.5" width="12" height="4.2" fill="#363635"/>
<rect x="1526.15" y="1776.5" width="4.4" height="5.1" fill="#363635"/>
<rect x="1556.15" y="1894.8" width="12" height="4.2" fill="#363635"/>
<path d="M1605.1 1911V1822.2A3.2 3.2 0 0 1 1608.3 1819H1630.9A3.2 3.2 0 0 1 1634.1 1822.2V1911Z" fill="#363635"/>
<path d="M1638.8 1911V1901.3L1642.1 1897.4H1665.5L1668.8 1901.3V1911Z" fill="#8f8f8f"/>
<rect x="1613.6" y="1805.2" width="12" height="4.2" fill="#363635"/>
<rect x="1617.4" y="1805.2" width="4.4" height="15.8" fill="#363635"/>
<rect x="1647.8" y="1897.7" width="12" height="4.2" fill="#363635"/>
<path d="M1696.6 1911V1855.6A3.2 3.2 0 0 1 1699.8 1852.4H1722.3A3.2 3.2 0 0 1 1725.5 1855.6V1911Z" fill="#363635"/>
<path d="M1730 1911V1905L1733.3 1901.1H1756.4L1759.7 1905V1911Z" fill="#8f8f8f"/>
<rect x="1705.05" y="1841.7" width="12" height="4.2" fill="#363635"/>
<rect x="1708.85" y="1841.7" width="4.4" height="12.7" fill="#363635"/>
<rect x="1738.85" y="1901.7" width="12" height="4.2" fill="#363635"/>
<rect x="1132.55" y="1482.15" width="3.7" height="430.75" fill="#3a3a3a"/>
<rect x="1123.5" y="1909.1" width="652.8" height="3.8" fill="#3a3a3a"/>
<rect x="1123.5" y="1482.15" width="10.9" height="3.7" fill="#3a3a3a"/>
<text class="yr" text-anchor="end" style="font-size:31.3px;letter-spacing:2.5px" transform="translate(1118.74 1492.7) scale(0.9 1)">120</text>
<rect x="1123.5" y="1588.9" width="10.9" height="3.7" fill="#3a3a3a"/>
<text class="yr" text-anchor="end" style="font-size:31.3px;letter-spacing:2.5px" transform="translate(1118.74 1599.45) scale(0.9 1)">90</text>
<rect x="1123.5" y="1695.65" width="10.9" height="3.7" fill="#3a3a3a"/>
<text class="yr" text-anchor="end" style="font-size:31.3px;letter-spacing:2.5px" transform="translate(1118.74 1706.2) scale(0.9 1)">60</text>
<rect x="1123.5" y="1802.4" width="10.9" height="3.7" fill="#3a3a3a"/>
<text class="yr" text-anchor="end" style="font-size:31.3px;letter-spacing:2.5px" transform="translate(1118.74 1812.95) scale(0.9 1)">30</text>
<text class="yr" text-anchor="end" style="font-size:31.3px;letter-spacing:2.5px" transform="translate(1118.74 1919.7) scale(0.9 1)">0</text>
<rect x="1177.95" y="1911" width="3.7" height="11.4" fill="#3a3a3a"/>
<text class="xt" text-anchor="end" transform="translate(1185.5 1945.7) rotate(-45) skewX(0)">Control</text>
<rect x="1269.65" y="1911" width="3.7" height="11.4" fill="#3a3a3a"/>
<text class="xt" text-anchor="end" transform="translate(1277.2 1945.7) rotate(-45) skewX(0)">30</text>
<rect x="1360.95" y="1911" width="3.7" height="11.4" fill="#3a3a3a"/>
<text class="xt" text-anchor="end" transform="translate(1368.5 1945.7) rotate(-45) skewX(0)">50</text>
<rect x="1452.15" y="1911" width="3.7" height="11.4" fill="#3a3a3a"/>
<text class="xt" text-anchor="end" transform="translate(1459.7 1945.7) rotate(-45) skewX(0)">100</text>
<rect x="1543.35" y="1911" width="3.7" height="11.4" fill="#3a3a3a"/>
<text class="xt" text-anchor="end" transform="translate(1550.9 1945.7) rotate(-45) skewX(0)">200</text>
<rect x="1634.85" y="1911" width="3.7" height="11.4" fill="#3a3a3a"/>
<text class="xt" text-anchor="end" transform="translate(1642.4 1945.7) rotate(-45) skewX(0)">300</text>
<rect x="1726.05" y="1911" width="3.7" height="11.4" fill="#3a3a3a"/>
<text class="xt" text-anchor="end" transform="translate(1733.6 1945.7) rotate(-45) skewX(0)">500</text>
<text class="al" text-anchor="middle" textLength="163" lengthAdjust="spacing" transform="translate(1047.5 1696) rotate(-90)">Viability, %</text>
<text class="al" x="1332.55" y="2036" textLength="235.65" lengthAdjust="spacing">Resveratrol, <tspan class="mu">µ</tspan>m</text>
<text class="ti" x="1324.1" y="1434.4" textLength="259.5" lengthAdjust="spacing">MDAH-2774, 72 h</text>
<text class="pl" transform="translate(1087.2 1445.7) scale(1.06 1)">F</text>
<rect x="1704.2" y="1518" width="52.1" height="24.8" rx="4" ry="4" fill="#363635"/>
<rect x="1704.2" y="1566.6" width="52.1" height="24.8" rx="4" ry="4" fill="#8f8f8f"/>
<text class="lg" style="font-size:33.8px" x="1778.1" y="1542.2" textLength="63.5" lengthAdjust="spacingAndGlyphs">XTT</text>
<text class="lg" style="font-size:33.8px" x="1778.1" y="1590.8" textLength="195.3" lengthAdjust="spacingAndGlyphs">xCELLigence</text>
</g>
</svg>
</body>
</html>
